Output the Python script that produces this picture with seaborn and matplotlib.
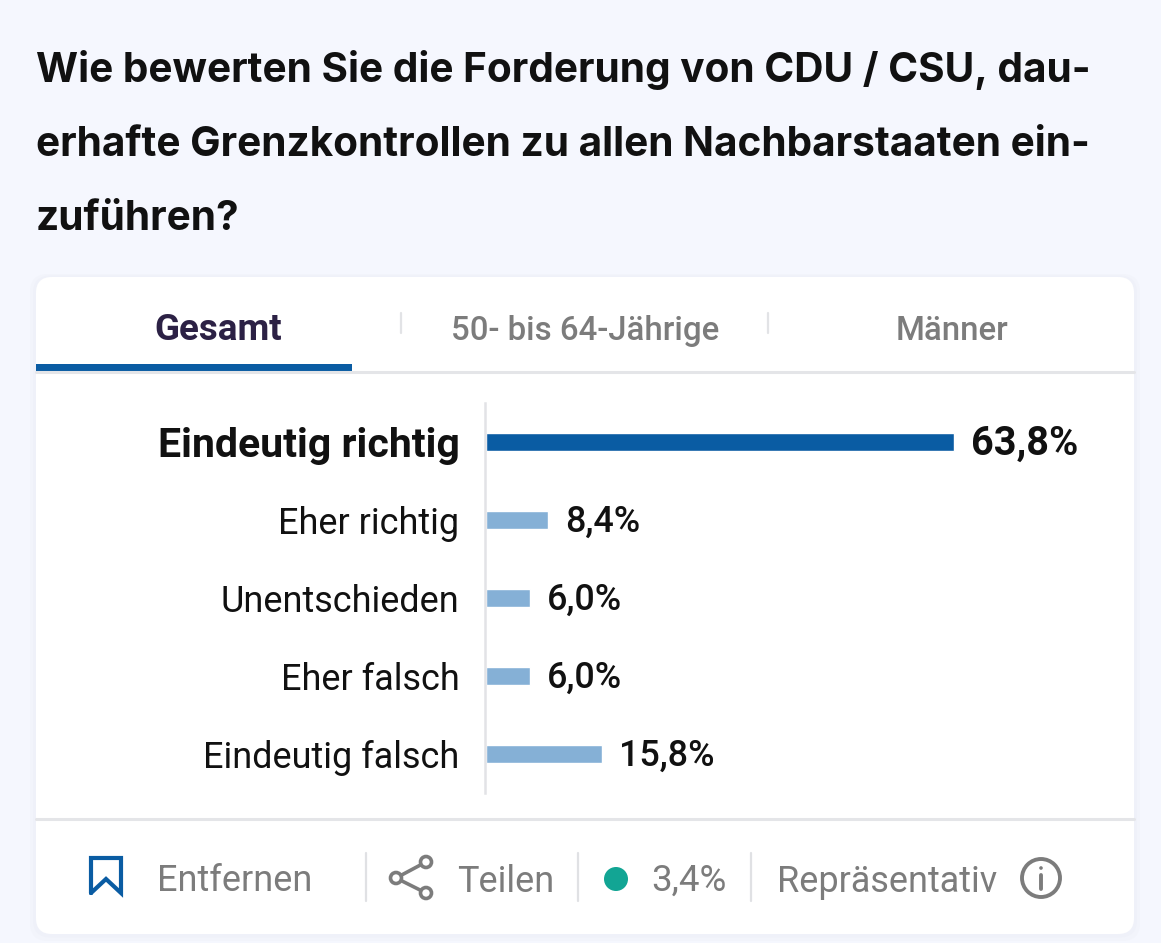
import matplotlib
matplotlib.use("Agg")
import matplotlib.pyplot as plt
from matplotlib.patches import FancyBboxPatch, Circle, Rectangle
from matplotlib.lines import Line2D
import pandas as pd
import seaborn as sns

categories = ["Eindeutig richtig", "Eher richtig", "Unentschieden", "Eher falsch", "Eindeutig falsch"]
values = [63.8, 8.4, 6.0, 6.0, 15.8]
value_labels = ["63,8%", "8,4%", "6,0%", "6,0%", "15,8%"]
bar_colors = ["#0A5CA3", "#85B0D6", "#85B0D6", "#85B0D6", "#85B0D6"]
title_lines = ["Wie bewerten Sie die Forderung von CDU / CSU, dau-",
               "erhafte Grenzkontrollen zu allen Nachbarstaaten ein-",
               "zuführen?"]
tabs = ["Gesamt", "50- bis 64-Jährige", "Männer"]
footer = ["Entfernen", "Teilen", "3,4%", "Repräsentativ"]

W, H = 1161, 943
BG = "#F5F7FE"
sns.set_theme(style="white")
plt.rcParams["font.family"] = ["Roboto", "DejaVu Sans"]

fig = plt.figure(figsize=(W / 100, H / 100), dpi=100, facecolor=BG)

# page layer in pixel coordinates
pg = fig.add_axes([0, 0, 1, 1], zorder=0)
pg.set_xlim(0, W)
pg.set_ylim(H, 0)
pg.axis("off")

# card with soft shadow
for grow, col in [(10, "#F2F4FB"), (5, "#EFF1F9")]:
    pg.add_patch(FancyBboxPatch((36 - grow * .6, 277 - grow * .3), 1098 + grow * 1.2, 657 + grow,
                                boxstyle="round,pad=0,rounding_size=18", fc=col, ec="none"))
pg.add_patch(FancyBboxPatch((36, 277), 1098, 657, boxstyle="round,pad=0,rounding_size=16",
                            fc="white", ec="none"))

# title
for y, line in zip([70, 145, 219], title_lines):
    pg.text(36, y, line, fontsize=29.2, fontweight="bold", family="Inter", color="#111111",
            va="center", ha="left")

# tabs
pg.add_line(Line2D([36, 1134], [371.5, 371.5], color="#E4E5E8", lw=2.2))
pg.add_patch(Rectangle((36, 364), 316, 6.5, fc="#0A5CA3", ec="none"))
for x in (401, 768):
    pg.add_line(Line2D([x, x], [313, 333], color="#E2E3E6", lw=1.6))
pg.text(218, 330, tabs[0], fontsize=26.5, fontweight="bold", color="#2C2145", ha="center", va="center")
pg.text(585, 331, tabs[1], fontsize=23.8, fontweight="medium", color="#7C7C7C", ha="center", va="center")
pg.text(952, 331, tabs[2], fontsize=23.8, fontweight="medium", color="#7C7C7C", ha="center", va="center")

# footer
pg.add_line(Line2D([36, 1134], [818.5, 818.5], color="#E4E5E8", lw=2.2))
for x in (366, 578, 751):
    pg.add_line(Line2D([x, x], [853, 901], color="#E0E1E4", lw=1.6))
pg.add_line(Line2D([91, 91, 121, 121, 106, 91], [893, 858, 858, 893, 879, 893],
                   color="#0A5CA3", lw=3, solid_joinstyle="miter"))
pg.text(157, 881, footer[0], fontsize=25.9, color="#7C7C7C", ha="left", va="center")
sx = [(396, 878), (426, 862), (426, 893)]
for a, b in ((sx[0], sx[1]), (sx[0], sx[2])):
    pg.add_line(Line2D([a[0], b[0]], [a[1], b[1]], color="#7C7C7C", lw=2.6))
for c in sx:
    pg.add_patch(Circle(c, 5.5, fc="white", ec="#7C7C7C", lw=2.6, zorder=3))
pg.text(457, 882, footer[1], fontsize=25.9, color="#7C7C7C", ha="left", va="center")
pg.add_patch(Circle((616, 879), 12, fc="#12A594", ec="none"))
pg.text(651, 881, footer[2], fontsize=26.4, color="#7C7C7C", ha="left", va="center")
pg.text(777, 882, footer[3], fontsize=25.9, color="#7C7C7C", ha="left", va="center")
pg.add_patch(Circle((1041, 878), 19, fc="white", ec="#7C7C7C", lw=2.8))
pg.add_line(Line2D([1041, 1041], [875, 889], color="#7C7C7C", lw=2.8))
pg.add_patch(Circle((1041, 868), 1.8, fc="#7C7C7C", ec="none"))

# bar chart
left, right, top, bottom = 486, 1134, 403, 793
ax = fig.add_axes([left / W, 1 - bottom / H, (right - left) / W, (bottom - top) / H], zorder=1)
ax.patch.set_alpha(0)
df = pd.DataFrame({"kategorie": categories, "wert": values})
sns.barplot(data=df, y="kategorie", x="wert", hue="kategorie", palette=bar_colors,
            legend=False, width=18 / 78, saturation=1, ax=ax)
ax.set_xlim(0, (right - left) / 7.335)
ax.set_ylim(4.5, -0.5)
ax.set_xlabel("")
ax.set_ylabel("")
ax.set_xticks([])
sns.despine(ax=ax, top=True, right=True, bottom=True)
ax.spines["left"].set_color("#E2E3E6")
ax.spines["left"].set_linewidth(1.8)
ax.spines["left"].set_position(("outward", 1))
ax.tick_params(axis="y", length=0, pad=18)
for i, lab in enumerate(ax.get_yticklabels()):
    lab.set_fontsize(29.5 if i == 0 else 25.9)
    lab.set_color("#111111")
    lab.set_fontweight("bold" if i == 0 else "normal")
for i, (v, t) in enumerate(zip(values, value_labels)):
    ax.annotate(t, (v, i), xytext=(12.5, -1.5), textcoords="offset points", va="center", ha="left",
                fontsize=28.5 if i == 0 else 25.8, fontweight="bold" if i == 0 else "medium", color="#111111")

fig.savefig("out.png", dpi=100, facecolor=BG)
